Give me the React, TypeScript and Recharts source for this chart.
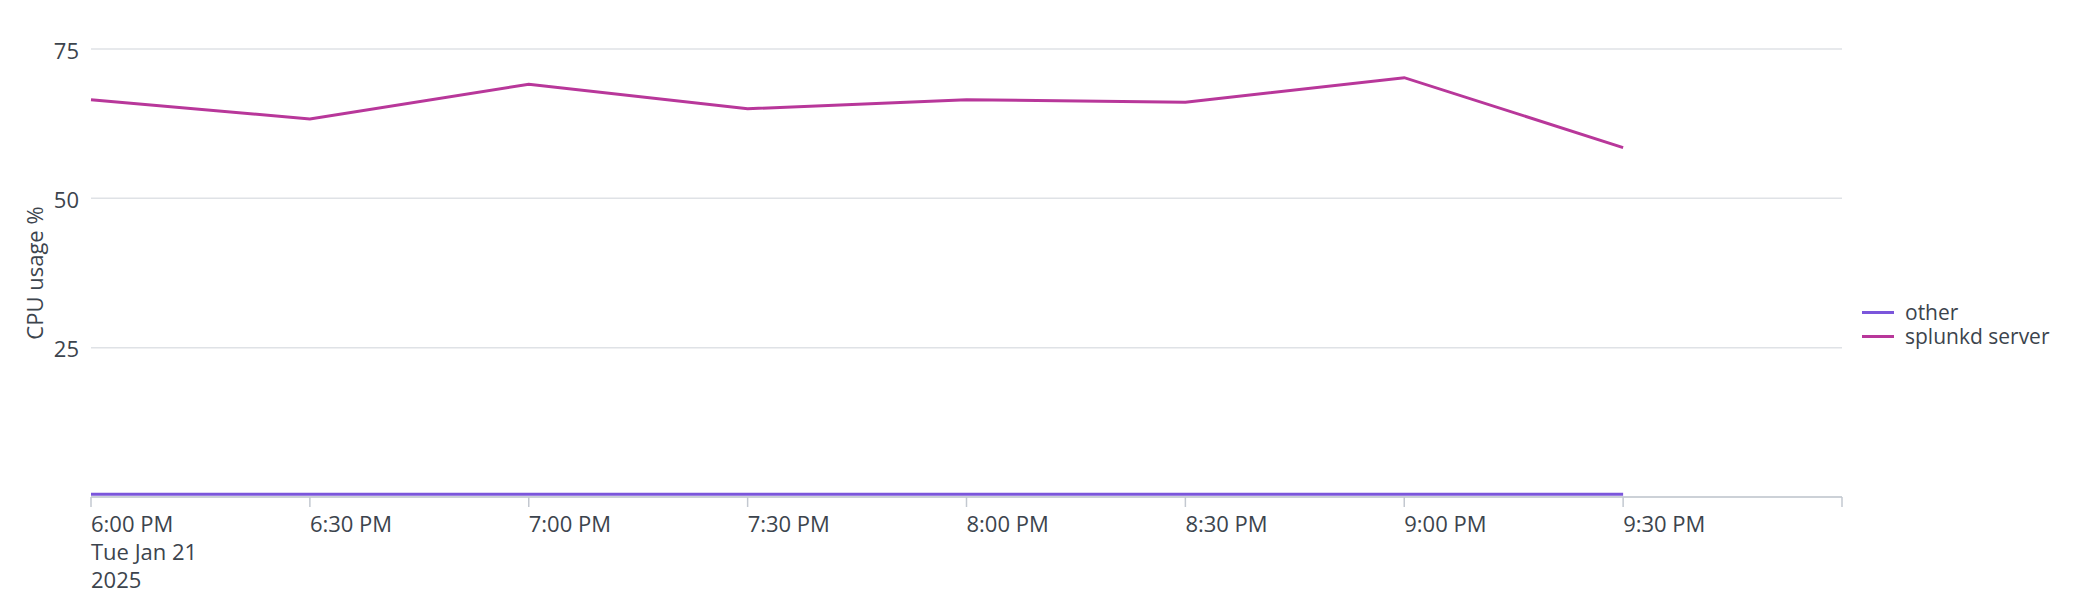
import React from 'react';
import { LineChart, Line, XAxis, YAxis, CartesianGrid, Legend } from 'recharts';

// minutes after 6:00 PM, Tue Jan 21 2025
const pointMinutes = [0, 30, 60, 90, 120, 150, 180, 210];
const splunkdServer = [66.5, 63.3, 69.1, 65.0, 66.5, 66.1, 70.2, 58.5];
const other = [0.45, 0.45, 0.45, 0.45, 0.45, 0.45, 0.45, 0.45];

const tickMinutes = [0, 30, 60, 90, 120, 150, 180, 210, 240];
const tickLabels = ['6:00 PM', '6:30 PM', '7:00 PM', '7:30 PM', '8:00 PM', '8:30 PM', '9:00 PM', '9:30 PM', ''];
const firstTickExtra = ['Tue Jan 21', '2025'];
const yTicks = [25, 50, 75];

const seriesNames = ['other', 'splunkd server'];
const seriesColors = ['#7B56DB', '#B8379A'];

const data = pointMinutes.map((m, i) => ({
  min: m,
  other: other[i],
  splunkd: splunkdServer[i],
}));

const FONT = '"Open Sans", sans-serif';
const TEXT = '#3c444d';

const XTick = (props: any) => {
  const { x, y, payload } = props;
  const idx = tickMinutes.indexOf(payload.value);
  const label = tickLabels[idx] ?? '';
  const lines = idx === 0 ? [label, ...firstTickExtra] : [label];
  return (
    <g>
      {lines.map((l, i) => (
        <text
          key={i}
          x={x}
          y={y + 23 + i * 28}
          textAnchor="start"
          fill={TEXT}
          fontSize={22}
          fontFamily={FONT}
        >
          {l}
        </text>
      ))}
    </g>
  );
};

const LegendContent = () => (
  <div style={{ fontFamily: FONT, fontSize: 21, color: TEXT }}>
    {seriesNames.map((n, i) => (
      <div key={n} style={{ display: 'flex', alignItems: 'center', height: 24, whiteSpace: 'nowrap', overflow: 'visible' }}>
        <span style={{ display: 'block', width: 32, height: 3, background: seriesColors[i], marginRight: 11, flex: 'none' }} />
        <span style={{ display: 'block', height: 24, lineHeight: '24px' }}>{n}</span>
      </div>
    ))}
  </div>
);

const YLabel = (props: any) => {
  const vb = props.viewBox || { x: 0, y: 49, width: 91, height: 448 };
  const cx = vb.x + 43;
  const cy = vb.y + vb.height / 2;
  return (
    <text
      x={cx}
      y={cy}
      transform={`rotate(-90 ${cx} ${cy})`}
      textAnchor="middle"
      fill={TEXT}
      fontSize={22}
      fontFamily={FONT}
    >
      CPU usage %
    </text>
  );
};

export default function App() {
  return (
    <div style={{ position: 'absolute', left: 0, top: 0, width: 2082, height: 610, background: '#fff' }}>
      <LineChart width={2082} height={610} data={data} margin={{ top: 49, right: 240, left: 0, bottom: 0 }}>
        <CartesianGrid horizontal vertical={false} stroke="#dfe2e6" strokeWidth={1.5} />
        <XAxis
          dataKey="min"
          type="number"
          domain={[0, 240]}
          ticks={tickMinutes}
          interval={0}
          height={113}
          axisLine={{ stroke: '#c3c8d0', strokeWidth: 1.5 }}
          tickLine={{ stroke: '#c3c8d0', strokeWidth: 1.5 }}
          tickSize={10}
          tick={<XTick />}
        />
        <YAxis
          type="number"
          domain={[0, 75]}
          ticks={yTicks}
          width={91}
          axisLine={false}
          tickLine={false}
          tickSize={0}
          tickMargin={12}
          tick={{ fill: TEXT, fontSize: 22, fontFamily: FONT, dy: 2 }}
          label={{ content: <YLabel /> }}
        />
        <Legend
          layout="horizontal"
          verticalAlign="middle"
          align="center"
          wrapperStyle={{ left: 1862, top: 300, width: 'auto', height: 'auto' }}
          content={<LegendContent />}
        />
        <Line
          type="linear"
          dataKey="other"
          name="other"
          stroke={seriesColors[0]}
          strokeWidth={3}
          dot={false}
          activeDot={false}
          isAnimationActive={false}
        />
        <Line
          type="linear"
          dataKey="splunkd"
          name="splunkd server"
          stroke={seriesColors[1]}
          strokeWidth={3}
          dot={false}
          activeDot={false}
          isAnimationActive={false}
        />
      </LineChart>
    </div>
  );
}
